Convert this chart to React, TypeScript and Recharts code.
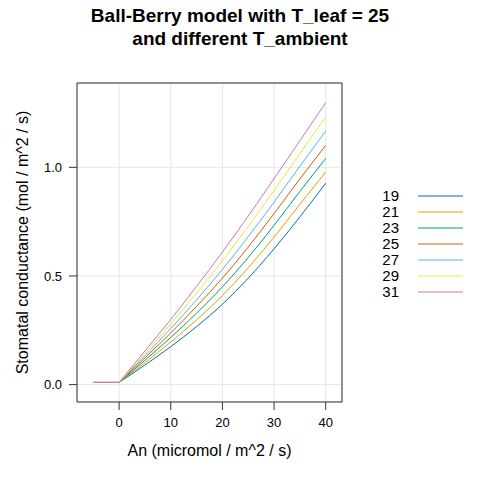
import React from "react";
import { CartesianGrid, Legend, Line, LineChart, XAxis, YAxis } from "recharts";

// An (micromol / m^2 / s)
const an = [-5, 0, 5, 10, 15, 20, 25, 30, 35, 40];
const tAmbient = [19, 21, 23, 25, 27, 29, 31];
const colors = ["#0072B2", "#E69F00", "#009E73", "#D55E00", "#56B4E9", "#F0E442", "#CC79A7"];

// stomatal conductance (mol / m^2 / s)
const gs19 = [0.01, 0.01, 0.09, 0.175, 0.267, 0.37, 0.49, 0.625, 0.772, 0.927];
const gs21 = [0.01, 0.01, 0.101, 0.196, 0.298, 0.41, 0.538, 0.679, 0.83, 0.979];
const gs23 = [0.01, 0.01, 0.112, 0.217, 0.329, 0.45, 0.585, 0.733, 0.889, 1.041];
const gs25 = [0.01, 0.01, 0.123, 0.238, 0.36, 0.49, 0.633, 0.787, 0.947, 1.101];
const gs27 = [0.01, 0.01, 0.133, 0.258, 0.39, 0.53, 0.681, 0.84, 1.005, 1.167];
const gs29 = [0.01, 0.01, 0.144, 0.279, 0.421, 0.57, 0.728, 0.894, 1.064, 1.232];
const gs31 = [0.01, 0.01, 0.155, 0.3, 0.452, 0.61, 0.776, 0.948, 1.122, 1.298];
const gsAll = [gs19, gs21, gs23, gs25, gs27, gs29, gs31];

const xTicks = [0, 10, 20, 30, 40];
const yTicks = [0, 0.5, 1];
const xDomain = [-8.15, 43.15];
const yDomain = [-0.08, 1.388];

const font = "'Liberation Sans', Arial, Helvetica, sans-serif";
const boxCol = "#333";

// flat part (An <= 0) and rising part kept apart so the kink at 0 stays sharp
const series = gsAll.map((gs, i) => ({
  t: tAmbient[i],
  color: colors[i],
  flat: an.slice(0, 2).map((x, j) => ({ an: x, gs: gs[j] })),
  rise: an.slice(1).map((x, j) => ({ an: x, gs: gs[j + 1] })),
}));

const renderLegend = () => (
  <div style={{ fontFamily: font }}>
    {series.map((s) => (
      <div
        key={s.t}
        style={{ display: "flex", alignItems: "center", height: 16 }}
      >
        <span
          style={{
            width: 39,
            textAlign: "right",
            fontSize: 15,
            lineHeight: "16px",
            color: "#000",
          }}
        >
          {s.t}
        </span>
        <svg width={45} height={16} style={{ marginLeft: 19, display: "block" }}>
          <line x1={0} x2={45} y1={8} y2={8} stroke={s.color} strokeWidth={1} />
        </svg>
      </div>
    ))}
  </div>
);

const App = () => {
  const tickStyle = { fontSize: 13, fill: "#000", fontFamily: font };

  return (
    <div
      style={{
        position: "absolute",
        left: 0,
        top: 0,
        width: 480,
        height: 480,
        background: "#fff",
        fontFamily: font,
      }}
    >
      <div
        style={{
          position: "absolute",
          top: 4,
          left: 0,
          width: 480,
          textAlign: "center",
          fontWeight: "bold",
          fontSize: 19,
          lineHeight: "23px",
          color: "#000",
          zIndex: 2,
        }}
      >
        Ball-Berry model with T_leaf = 25
        <br />
        and different T_ambient
      </div>
      <LineChart
        width={480}
        height={480}
        margin={{ top: 0, right: 0, bottom: 0, left: 0 }}
      >
        <CartesianGrid stroke="#e6e6e6" strokeWidth={1} />
        <XAxis
          xAxisId={0}
          dataKey="an"
          type="number"
          domain={xDomain}
          ticks={xTicks}
          interval={0}
          allowDataOverflow
          height={78}
          tickSize={8}
          tickMargin={8}
          tick={tickStyle}
          stroke={boxCol}
          axisLine={{ stroke: boxCol }}
          tickLine={{ stroke: boxCol }}
          label={{
            value: "An (micromol / m^2 / s)",
            position: "insideBottom",
            offset: 24,
            style: { fontSize: 16, fill: "#000", fontFamily: font },
          }}
        />
        <XAxis
          xAxisId="top"
          orientation="top"
          type="number"
          domain={xDomain}
          ticks={xTicks}
          interval={0}
          allowDataOverflow
          height={83}
          tickSize={7}
          tick={false}
          axisLine={{ stroke: boxCol }}
          tickLine={{ stroke: boxCol }}
        />
        <YAxis
          yAxisId={0}
          type="number"
          domain={yDomain}
          ticks={yTicks}
          interval={0}
          allowDataOverflow
          width={77}
          tickSize={8}
          tickMargin={7}
          tick={tickStyle}
          tickFormatter={(v: number) => v.toFixed(1)}
          axisLine={{ stroke: boxCol }}
          tickLine={{ stroke: boxCol }}
          label={{
            value: "Stomatal conductance (mol / m^2 / s)",
            angle: -90,
            position: "insideLeft",
            offset: 22,
            style: {
              fontSize: 16,
              fill: "#000",
              fontFamily: font,
              textAnchor: "middle",
            },
          }}
        />
        <YAxis
          yAxisId="right"
          orientation="right"
          type="number"
          domain={yDomain}
          ticks={yTicks}
          interval={0}
          allowDataOverflow
          width={138}
          tickSize={8}
          tick={false}
          axisLine={{ stroke: boxCol }}
          tickLine={{ stroke: boxCol }}
        />
        {series.map((s) => (
          <Line
            key={`flat-${s.t}`}
            data={s.flat}
            dataKey="gs"
            type="linear"
            stroke={s.color}
            strokeWidth={1}
            dot={false}
            activeDot={false}
            legendType="none"
            isAnimationActive={false}
          />
        ))}
        {series.map((s) => (
          <Line
            key={`rise-${s.t}`}
            data={s.rise}
            dataKey="gs"
            name={String(s.t)}
            type="monotone"
            stroke={s.color}
            strokeWidth={1}
            dot={false}
            activeDot={false}
            isAnimationActive={false}
          />
        ))}
        <Legend
          layout="horizontal"
          align="center"
          verticalAlign="middle"
          content={renderLegend}
          wrapperStyle={{ left: 360, top: 188, width: 110, height: 112 }}
        />
      </LineChart>
    </div>
  );
};

export default App;
